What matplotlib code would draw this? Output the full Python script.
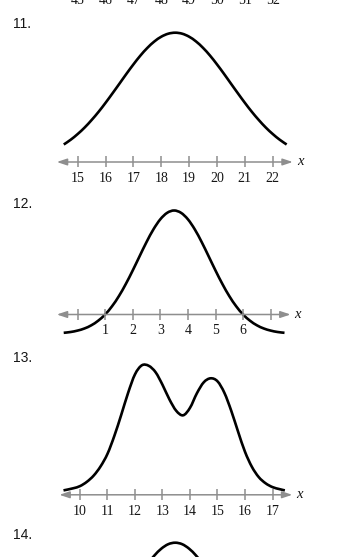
import numpy as np
import matplotlib
matplotlib.use("Agg")
import matplotlib.pyplot as plt
from matplotlib.path import Path
from matplotlib.patches import PathPatch

W, H = 340, 557

# ---------------- data ----------------
# panel 10 (only the bottom of its tick labels is visible at the top edge)
p10_ticks = [45, 46, 47, 48, 49, 50, 51, 52]
p10_labels = ["45", "46", "47", "48", "49", "50", "51", "52"]

# panel 11
p11_ticks = [15, 16, 17, 18, 19, 20, 21, 22]
p11_labels = ["15", "16", "17", "18", "19", "20", "21", "22"]
p11_x = [14.5, 14.75, 15.0, 15.25, 15.5, 15.75, 16.0, 16.25, 16.5, 16.75, 17.0,
         17.25, 17.5, 17.75, 18.0, 18.25, 18.5, 18.75, 19.0, 19.25, 19.5, 19.75,
         20.0, 20.25, 20.5, 20.75, 21.0, 21.25, 21.5, 21.75, 22.0, 22.25, 22.5]
p11_h = [17.5, 22.3, 28.0, 34.5, 42.0, 50.2, 59.2, 68.7, 78.4, 88.2, 97.6,
         106.4, 114.1, 120.5, 125.3, 128.3, 129.3, 128.3, 125.3, 120.5, 114.1, 106.4,
         97.6, 88.2, 78.4, 68.7, 59.2, 50.2, 42.0, 34.5, 28.0, 22.3, 17.5]

# panel 12
p12_ticks = [0, 1, 2, 3, 4, 5, 6, 7]
p12_labels = ["", "1", "2", "3", "4", "5", "6", ""]
p12_x = [-0.5, -0.25, 0.0, 0.25, 0.5, 0.75, 1.0, 1.25, 1.5, 1.75, 2.0,
         2.25, 2.5, 2.75, 3.0, 3.25, 3.5, 3.75, 4.0, 4.25, 4.5, 4.75,
         5.0, 5.25, 5.5, 5.75, 6.0, 6.25, 6.5, 6.75, 7.0, 7.25, 7.5]
p12_h = [-18.3, -17.5, -16.1, -14.0, -10.8, -6.2, 0.0, 8.2, 18.4, 30.5, 44.0,
         58.3, 72.4, 85.1, 95.2, 101.7, 104.0, 101.7, 95.2, 85.1, 72.4, 58.3,
         44.0, 30.5, 18.4, 8.2, 0.0, -6.2, -10.8, -14.0, -16.1, -17.5, -18.3]

# panel 13
p13_ticks = [10, 11, 12, 13, 14, 15, 16, 17]
p13_labels = ["10", "11", "12", "13", "14", "15", "16", "17"]
p13_x = [9.4, 9.75, 10.0, 10.25, 10.5, 10.75, 11.0, 11.25, 11.5, 11.75, 12.0,
         12.25, 12.5, 12.75, 13.0, 13.25, 13.5, 13.75, 14.0, 14.25, 14.5, 14.75,
         15.0, 15.25, 15.5, 15.75, 16.0, 16.25, 16.5, 16.75, 17.0, 17.25, 17.45]
p13_h = [4.4, 6.5, 8.7, 13.0, 19.3, 28.5, 41.0, 59.0, 80.0, 102.0, 120.5,
         129.5, 129.0, 122.5, 110.0, 95.5, 84.0, 79.5, 87.0, 101.5, 112.5, 116.5,
         113.5, 102.0, 84.0, 63.0, 43.0, 28.0, 17.7, 11.5, 7.7, 5.7, 4.4]

# panel 14 (only the top of the curve is visible)
p14_x = [2.25, 2.5, 2.75, 3.0, 3.25, 3.5, 3.75, 4.0, 4.25, 4.5, 4.75]
p14_h = [-16.8, -7.2, 1.4, 8.3, 12.8, 14.3, 12.8, 8.3, 1.4, -7.2, -16.8]

panel_titles = ["11.", "12.", "13.", "14."]

# ---------------- style / layout ----------------
GRAY = "#8e8e8e"
INK = "#151515"
SERIF = "Liberation Serif"
SANS = "Liberation Sans"

fig = plt.figure(figsize=(W / 100, H / 100), dpi=100)
fig.patch.set_facecolor("white")


def panel(top, bottom, base, x0px, u0, upx):
    """Axes over the full width; 1 y-unit = 1 px, y=0 at the number line."""
    ax = fig.add_axes([0, 1 - bottom / H, 1, (bottom - top) / H])
    ax.set_xlim(u0 - x0px / upx, u0 + (W - x0px) / upx)
    ax.set_ylim(base - bottom, base - top)
    ax.axis("off")
    return ax


def number_line(ax, ticks, labels, show_line=True):
    first, last = ticks[0], ticks[-1]
    if show_line:
        ax.annotate("", xy=(last + 0.72, 0), xytext=(first - 0.75, 0),
                    arrowprops=dict(arrowstyle="<|-|>,head_length=0.6,head_width=0.2",
                                    color=GRAY, lw=1.1, shrinkA=0, shrinkB=0))
        ax.vlines(ticks, -5.5, 6.0, color=GRAY, lw=1.1)
        ax.text(last + 0.72 + 0.14, 0, "x", family=SERIF, style="italic",
                fontsize=10.5, color=INK, ha="left", va="center")
    for t, lab in zip(ticks, labels):
        ax.text(t, -20, lab, family=SERIF, fontsize=10, color=INK,
                ha="center", va="baseline", clip_on=False)


def curve(ax, xs, ys):
    P = np.column_stack([xs, ys]).astype(float)
    n = len(P)
    verts = [P[0]]
    codes = [Path.MOVETO]
    for i in range(n - 1):
        p0 = P[i - 1] if i > 0 else P[i]
        p1, p2 = P[i], P[i + 1]
        p3 = P[i + 2] if i + 2 < n else P[i + 1]
        verts += [p1 + (p2 - p0) / 6, p2 - (p3 - p1) / 6, p2]
        codes += [Path.CURVE4] * 3
    ax.add_patch(PathPatch(Path(verts, codes), fill=False, ec="black",
                           lw=1.9, capstyle="butt", joinstyle="round"))


# panel 10 (cut off at the top, as in the reference)
ax10 = panel(-40, 10, -16.5, 77.7, 45, 27.86)
number_line(ax10, p10_ticks, p10_labels, show_line=False)

# panel 11
ax11 = panel(22, 190, 162.0, 77.7, 15, 27.86)
curve(ax11, p11_x, p11_h)
number_line(ax11, p11_ticks, p11_labels)

# panel 12
ax12 = panel(200, 345, 314.5, 77.5, 0, 27.6)
curve(ax12, p12_x, p12_h)
number_line(ax12, p12_ticks, p12_labels)

# panel 13
ax13 = panel(355, 525, 494.8, 80.0, 10, 27.5)
curve(ax13, p13_x, p13_h)
number_line(ax13, p13_ticks, p13_labels)

# panel 14
ax14 = panel(528, 557, 557.0, 77.7, 0, 27.86)
curve(ax14, p14_x, p14_h)

# panel numbers
for title, base_px in zip(panel_titles, [28.3, 208.3, 361.7, 539.3]):
    fig.text(13 / W, 1 - base_px / H, title, family=SANS, fontsize=10,
             color=INK, ha="left", va="baseline")

fig.savefig("out.png", dpi=100, facecolor="white")
